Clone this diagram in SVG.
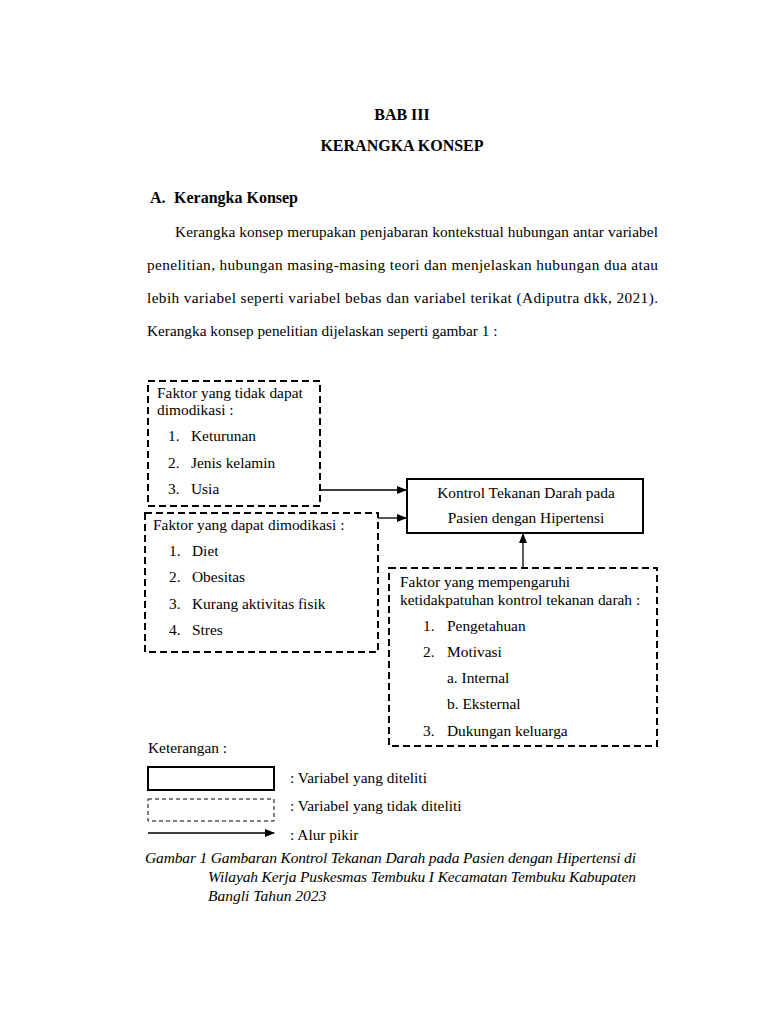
<svg xmlns="http://www.w3.org/2000/svg" width="768" height="1024" viewBox="0 0 768 1024">
<style>
text{font-family:"Liberation Serif","Times New Roman",serif;font-size:15.4px;fill:#000}
.b{font-weight:bold;font-size:16px}
.p{font-size:15.3px}
.i{font-style:italic;font-size:15.5px}
.dash{fill:none;stroke:#000;stroke-width:2;stroke-dasharray:7,4}
.solid{fill:none;stroke:#000;stroke-width:2}
.ln{fill:none;stroke:#000;stroke-width:1.3}
</style>
<defs>
<marker id="ah" markerWidth="10" markerHeight="8" refX="9" refY="4" orient="auto" markerUnits="userSpaceOnUse">
<path d="M0,0 L10,4 L0,8 z" fill="#000"/>
</marker>
</defs>
<rect width="768" height="1024" fill="#fff"/>
<g id="header">
<text class="b" x="402" y="120" text-anchor="middle">BAB III</text>
<text class="b" x="402" y="151" text-anchor="middle">KERANGKA KONSEP</text>
<text class="b" x="150" y="203">A.</text>
<text class="b" x="174" y="203">Kerangka Konsep</text>
<text class="p" x="175" y="237" textLength="483" lengthAdjust="spacing">Kerangka konsep merupakan penjabaran kontekstual hubungan antar variabel</text>
<text class="p" x="147" y="270" textLength="511" lengthAdjust="spacing">penelitian, hubungan masing-masing teori dan menjelaskan hubungan dua atau</text>
<text class="p" x="147" y="303" textLength="511" lengthAdjust="spacing">lebih variabel seperti variabel bebas dan variabel terikat (Adiputra dkk, 2021).</text>
<text class="p" x="147" y="336">Kerangka konsep penelitian dijelaskan seperti gambar 1 :</text>
</g>
<g id="connectors">
<line class="ln" x1="320" y1="490" x2="406" y2="490" marker-end="url(#ah)"/>
<line class="ln" x1="378" y1="518" x2="406" y2="518" marker-end="url(#ah)"/>
<line class="ln" x1="523" y1="568" x2="523" y2="534" marker-end="url(#ah)"/>
</g>
<g id="node-tidak-dapat">
<rect class="dash" x="148" y="381" width="172" height="125"/>
<text x="157" y="398">Faktor yang tidak dapat</text>
<text x="157" y="415">dimodikasi :</text>
<text x="168" y="441">1.</text><text x="191" y="441">Keturunan</text>
<text x="168" y="468">2.</text><text x="191" y="468">Jenis kelamin</text>
<text x="168" y="494">3.</text><text x="191" y="494">Usia</text>
</g>
<g id="node-dapat">
<rect class="dash" x="145" y="513" width="233" height="139"/>
<text x="153" y="530">Faktor yang dapat dimodikasi :</text>
<text x="169" y="556">1.</text><text x="192" y="556">Diet</text>
<text x="169" y="582">2.</text><text x="192" y="582">Obesitas</text>
<text x="169" y="609">3.</text><text x="192" y="609">Kurang aktivitas fisik</text>
<text x="169" y="635">4.</text><text x="192" y="635">Stres</text>
</g>
<g id="node-kontrol">
<rect class="solid" x="407" y="479" width="236" height="54"/>
<text x="526" y="498" text-anchor="middle">Kontrol Tekanan Darah pada</text>
<text x="526" y="523" text-anchor="middle">Pasien dengan Hipertensi</text>
</g>
<g id="node-ketidakpatuhan">
<rect class="dash" x="389" y="568" width="268" height="178"/>
<text x="400" y="587">Faktor yang mempengaruhi</text>
<text x="400" y="605">ketidakpatuhan kontrol tekanan darah :</text>
<text x="423" y="631">1.</text><text x="447" y="631">Pengetahuan</text>
<text x="423" y="657">2.</text><text x="447" y="657">Motivasi</text>
<text x="447" y="683">a. Internal</text>
<text x="447" y="709">b. Eksternal</text>
<text x="423" y="736">3.</text><text x="447" y="736">Dukungan keluarga</text>
</g>
<g id="legend">
<text x="148" y="753">Keterangan :</text>
<rect class="solid" x="148" y="767" width="126" height="23"/>
<text x="290" y="783">: Variabel yang diteliti</text>
<rect x="148" y="799" width="126" height="22" fill="none" stroke="#000" stroke-width="1" stroke-dasharray="4,3"/>
<text x="290" y="811">: Variabel yang tidak diteliti</text>
<line class="ln" x1="148" y1="833" x2="274" y2="833" marker-end="url(#ah)"/>
<text x="290" y="840">: Alur pikir</text>
</g>
<g id="caption">
<text class="i" x="145" y="863" textLength="491" lengthAdjust="spacing">Gambar 1 Gambaran Kontrol Tekanan Darah pada Pasien dengan Hipertensi di</text>
<text class="i" x="208" y="882" textLength="428" lengthAdjust="spacing">Wilayah Kerja Puskesmas Tembuku I Kecamatan Tembuku Kabupaten</text>
<text class="i" x="208" y="901">Bangli Tahun 2023</text>
</g>
</svg>
